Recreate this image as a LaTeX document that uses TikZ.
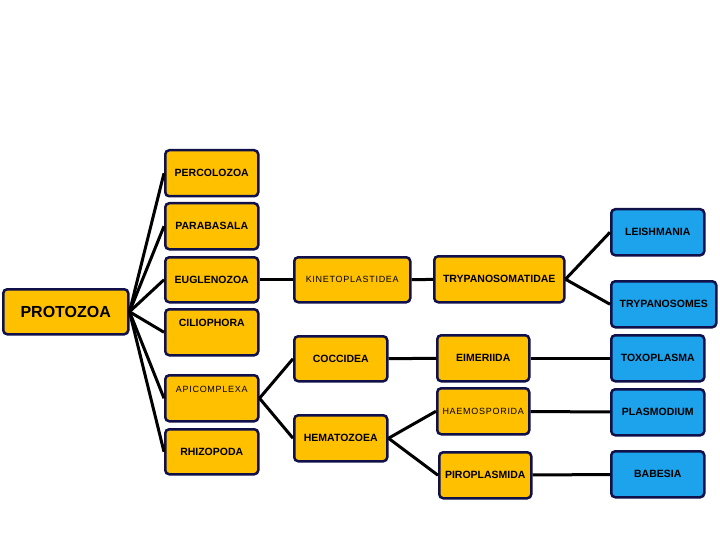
\documentclass[tikz,border=0pt]{standalone}
\usepackage{fontspec}
\setmainfont{Liberation Sans}
\begin{document}
\begin{tikzpicture}[x=1pt,y=-1pt,
  base/.style={draw=navyb,line width=2.5pt,rounded corners=4pt,inner sep=1pt,anchor=north west,font=\bfseries\fontsize{10.5}{12}\selectfont},
  org/.style={base,fill=orangeb},
  blu/.style={base,fill=blueb},
  sz/.style 2 args={minimum width=#1pt,minimum height=#2pt},
  thin/.style={font=\fontsize{9}{11}\selectfont\addfontfeature{LetterSpace=8}},
  con/.style={line width=3pt,black}]
\definecolor{orangeb}{HTML}{FFC000}
\definecolor{blueb}{HTML}{1CA3EC}
\definecolor{navyb}{HTML}{10104A}
\useasboundingbox (0,0) rectangle (720,540);
\node[org,sz={125}{45},font=\bfseries\fontsize{16}{18}\selectfont] (pro) at (2,288) {PROTOZOA};
\node[org,sz={93}{46}] (per) at (164,149) {PERCOLOZOA};
\node[org,sz={93}{46}] (par) at (164,202) {PARABASALA};
\node[org,sz={93}{45}] (eug) at (164,256) {EUGLENOZOA};
\node[org,sz={93}{46},label={[anchor=north,yshift=-8pt,font=\bfseries\fontsize{10.5}{12}\selectfont]north:CILIOPHORA}] (cil) at (164,308) {};
\node[org,sz={93}{46},label={[anchor=north,yshift=-9pt,thin]north:APICOMPLEXA}] (api) at (164,374) {};
\node[org,sz={93}{45}] (rhi) at (164,428) {RHIZOPODA};
\node[org,sz={116}{45},thin] (kin) at (293,256) {KINETOPLASTIDEA};
\node[org,sz={93}{45}] (coc) at (293,335) {COCCIDEA};
\node[org,sz={93}{46}] (hem) at (293,414) {HEMATOZOEA};
\node[org,sz={130}{46}] (try) at (433,255) {TRYPANOSOMATIDAE};
\node[org,sz={92}{46}] (eim) at (436,334) {EIMERIIDA};
\node[org,sz={92}{46},thin] (hae) at (436,387) {HAEMOSPORIDA};
\node[org,sz={92}{46}] (pir) at (438,451) {PIROPLASMIDA};
\node[blu,sz={93}{46}] (lei) at (610,208) {LEISHMANIA};
\node[blu,sz={105}{46}] (trs) at (610,280) {TRYPANOSOMES};
\node[blu,sz={93}{46}] (tox) at (610,334) {TOXOPLASMA};
\node[blu,sz={93}{46}] (pla) at (610,388) {PLASMODIUM};
\node[blu,sz={93}{46}] (bab) at (610,450) {BABESIA};
\begin{scope}[on background layer/.try]
\foreach \n in {per,par,eug,cil,api,rhi} \draw[con] (pro.east) -- (\n.west);
\draw[con] (eug) -- (kin);
\draw[con] (kin) -- (try);
\draw[con] (try.east) -- (lei.west);
\draw[con] (try.east) -- (trs.west);
\draw[con] (api.east) -- (coc.west);
\draw[con] (api.east) -- (hem.west);
\draw[con] (coc) -- (eim);
\draw[con] (eim) -- (tox);
\draw[con] (hem.east) -- (hae.west);
\draw[con] (hem.east) -- (pir.west);
\draw[con] (hae) -- (pla);
\draw[con] (pir) -- (bab);
\end{scope}
\end{tikzpicture}
\end{document}
